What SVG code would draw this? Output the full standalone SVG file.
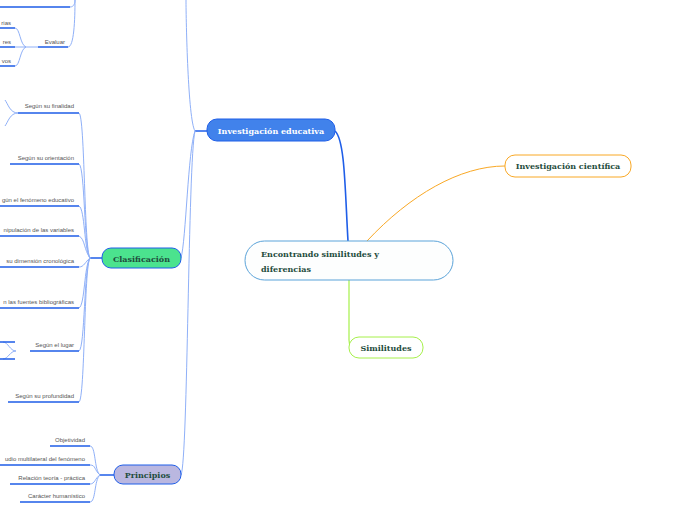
<svg xmlns="http://www.w3.org/2000/svg" width="697" height="520" viewBox="0 0 697 520">
<style>
.t{font-family:"Liberation Sans",Arial,sans-serif;font-size:6px;fill:#555}
.n{font-family:"DejaVu Serif","Liberation Serif",serif;font-weight:bold;font-size:8px;fill:#1f4d3d}
.u{stroke:#1f5ee8;stroke-width:1.5;fill:none}
.b{stroke:#8fb0f8;stroke-width:1;fill:none}
</style>
<rect width="697" height="520" fill="#fff"/>
<g id="connectors">
<path d="M348,241 C345,190 345,140 335,131" stroke="#1f5ee8" stroke-width="1.6" fill="none"/>
<path d="M367,241 C410,195 460,166 505,166" stroke="#f9a825" stroke-width="1" fill="none"/>
<path d="M349,280 L349,340 Q349,348 356,348" stroke="#a6f04a" stroke-width="1.2" fill="none"/>
<path d="M207,131 L195,131" stroke="#1f5ee8" stroke-width="1.5" fill="none"/>
<path class="b" d="M195,131 C188,120 186,20 186,0"/>
<path class="b" d="M195,131 C188,150 186,240 181,258"/>
<path class="b" d="M195,131 C188,160 188,460 181,475"/>
<path d="M102,258 L90,258" stroke="#1f5ee8" stroke-width="1.5" fill="none"/>
<path d="M114,475 L100,475" stroke="#1f5ee8" stroke-width="1.5" fill="none"/>
<path class="b" d="M90,258 C84,250 85,116 79,113"/>
<path class="b" d="M90,258 C84,250 85,167 79,164"/>
<path class="b" d="M90,258 C84,250 85,209 79,206"/>
<path class="b" d="M90,258 C84,250 85,239 79,236"/>
<path class="b" d="M90,258 C85,262 84,267 79,267"/>
<path class="b" d="M90,258 C84,266 85,305 79,308"/>
<path class="b" d="M90,258 C84,266 85,348 79,351"/>
<path class="b" d="M90,258 C84,266 85,399 79,402"/>
<path class="u" d="M18,113 H79 M10,164 H79 M0,206 H79 M0,236 H79 M0,267 H79 M0,308 H79 M30,351 H79 M8,402 H79"/>
<path class="b" d="M18,113 C10,113 8,104 5,100 M18,113 C10,113 8,122 5,126"/>
<path class="b" d="M16,351 C10,351 8,342 3,342 M16,351 C10,351 8,359 3,359"/>
<path class="u" d="M0,342 H15 M0,359 H15"/>
<path class="b" d="M100,475 C94,470 96,446 90,446"/>
<path class="b" d="M100,475 C94,470 96,465 90,465"/>
<path class="b" d="M100,475 C95,478 95,484 90,484"/>
<path class="b" d="M100,475 C94,480 96,502 90,502"/>
<path class="u" d="M50,446 H90 M0,465 H90 M10,484 H90 M20,502 H90"/>
<path class="b" d="M68,47 C74,47 75,20 75,0"/>
<path class="b" d="M70,7 C74,7 75,3 75,0"/>
<path class="u" d="M0,7 H70 M38,47 H68 M0,28 H15 M0,47 H15 M0,66 H15"/>
<path class="b" d="M38,47 H26 M26,47 C20,45 20,28 15,28 M26,47 H15 M26,47 C20,49 20,66 15,66"/>
</g>
<g id="central">
<rect x="245" y="241" width="208" height="39" rx="19.5" fill="#fdfefe" stroke="#5ba3d9" stroke-width="1"/>
<text class="n" x="261" y="257" font-size="9.5" fill="#222">Encontrando similitudes y</text>
<text class="n" x="261" y="272" font-size="9.5" fill="#222">diferencias</text>
</g>
<g id="inv-educativa">
<rect x="207" y="119" width="128" height="22" rx="10" fill="#4182eb" stroke="#1f5ee8"/>
<text class="n" x="271" y="134" text-anchor="middle" fill="#fff" style="fill:#fff">Investigación educativa</text>
</g>
<g id="inv-cientifica">
<rect x="505" y="155" width="126" height="22" rx="10" fill="#fff" stroke="#f9a825"/>
<text class="n" x="568" y="169" text-anchor="middle">Investigación científica</text>
</g>
<g id="similitudes">
<rect x="349" y="337" width="74" height="21" rx="10" fill="#fff" stroke="#a6f04a"/>
<text class="n" x="386" y="351" text-anchor="middle">Similitudes</text>
</g>
<g id="clasificacion">
<rect x="102" y="248" width="79" height="20" rx="9" fill="#4be38e" stroke="#1f5ee8"/>
<text class="n" x="141.5" y="261.5" text-anchor="middle">Clasificación</text>
</g>
<g id="principios">
<rect x="114" y="465" width="67" height="19" rx="9" fill="#bab7e0" stroke="#1f5ee8"/>
<text class="n" x="147.5" y="478" text-anchor="middle">Principios</text>
</g>
<g id="leaves" class="t">
<text class="t" x="65" y="44" text-anchor="end">Evaluar</text>
<text class="t" x="11" y="25" text-anchor="end">rias</text>
<text class="t" x="11" y="44" text-anchor="end">res</text>
<text class="t" x="11" y="63" text-anchor="end">vos</text>
<text class="t" x="74" y="108" text-anchor="end">Según su finalidad</text>
<text class="t" x="74" y="160" text-anchor="end">Según su orientación</text>
<text class="t" x="74" y="202" text-anchor="end">gún el fenómeno educativo</text>
<text class="t" x="74" y="232" text-anchor="end">nipulación de las variables</text>
<text class="t" x="74" y="263" text-anchor="end">su dimensión cronológica</text>
<text class="t" x="74" y="304" text-anchor="end">n las fuentes bibliográficas</text>
<text class="t" x="74" y="347" text-anchor="end">Según el lugar</text>
<text class="t" x="74" y="398" text-anchor="end">Según su profundidad</text>
<text class="t" x="85" y="442" text-anchor="end">Objetividad</text>
<text class="t" x="85" y="461" text-anchor="end">udio multilateral del fenómeno</text>
<text class="t" x="85" y="480" text-anchor="end">Relación teoría - práctica</text>
<text class="t" x="85" y="498" text-anchor="end">Carácter humanístico</text>
</g>
</svg>
